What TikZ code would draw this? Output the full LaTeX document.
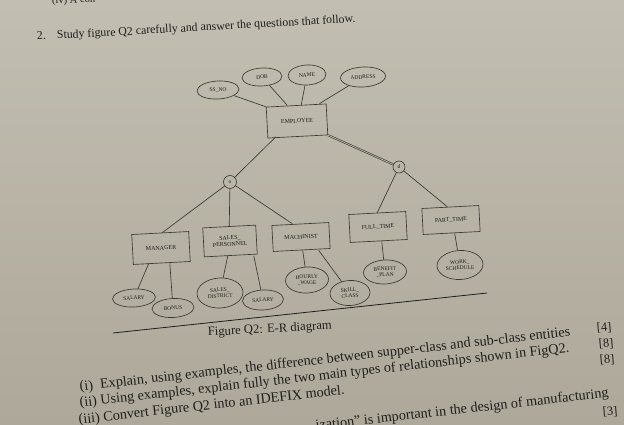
\documentclass[tikz,border=0pt]{standalone}
\usepackage{fontspec}
\setmainfont{Liberation Serif}
\usetikzlibrary{shapes.geometric,calc}
\definecolor{paperA}{HTML}{C2BEB1}
\definecolor{paperB}{HTML}{ADA899}
\definecolor{ink}{HTML}{1E1E1E}
\definecolor{lineink}{HTML}{3A3835}
\begin{document}
\begin{tikzpicture}[x=1pt,y=-1pt,
  ent/.style={draw=lineink, line width=0.65pt, inner sep=0pt, rotate=3, text=ink,
              font=\fontsize{6}{6.4}\selectfont, align=center},
  attr/.style={ellipse, draw=lineink, line width=0.65pt, inner sep=0pt, rotate=3, text=ink,
               font=\fontsize{5.5}{5.9}\selectfont, align=center},
  gen/.style={circle, draw=lineink, line width=0.65pt, inner sep=0pt, text=ink,
              font=\fontsize{5.5}{5.5}\selectfont},
  conn/.style={draw=lineink, line width=0.65pt},
  qtext/.style={text=ink, inner sep=0pt, anchor=base west}]
% background
\shade[top color=paperA, bottom color=paperB] (0,0) rectangle (624,425);
\useasboundingbox (0,0) rectangle (624,425);

% header
\node[qtext, rotate=3, font=\fontsize{10.5}{12}\selectfont] (cut) at (52,4) {(iv) A con};
\node[qtext, rotate=3.2, font=\fontsize{11.8}{13}\selectfont] (qnum) at (37,40) {2.};
\node[qtext, rotate=3.2, font=\fontsize{11.8}{13}\selectfont] (qhead) at (57,39)
  {Study figure Q2 carefully and answer the questions that follow.};

% entities
\node[ent, minimum width=60, minimum height=31] (emp) at (297,121) {EMPLOYEE};
\node[ent, minimum width=57, minimum height=30] (mgr) at (161,248) {MANAGER};
\node[ent, minimum width=53, minimum height=29] (sp) at (230,241) {SALES\_\\PERSONNEL};
\node[ent, minimum width=57, minimum height=26] (mach) at (301,237) {MACHINIST};
\node[ent, minimum width=57, minimum height=28] (ft) at (378,227) {FULL\_TIME};
\node[ent, minimum width=57, minimum height=26] (pt) at (451,220) {PART\_TIME};

% generalisation circles
\node[gen, minimum size=13] (ov) at (230,182) {o};
\node[gen, minimum size=12] (dj) at (399,167) {d};

% attributes of EMPLOYEE
\node[attr, minimum width=42, minimum height=18] (ssno) at (218,90) {SS\_NO};
\node[attr, minimum width=40, minimum height=18] (dob) at (262,77) {DOB};
\node[attr, minimum width=38, minimum height=20] (name) at (307,75) {NAME};
\node[attr, minimum width=45, minimum height=20] (addr) at (363,77) {ADDRESS};

% attributes of subclasses
\node[attr, minimum width=43, minimum height=18] (sal1) at (134,298) {SALARY};
\node[attr, minimum width=42, minimum height=19] (bonus) at (173,308) {BONUS};
\node[attr, minimum width=46, minimum height=30] (sdist) at (220,293) {SALES\_\\DISTRICT};
\node[attr, minimum width=41, minimum height=20] (sal2) at (263,300) {SALARY};
\node[attr, minimum width=43, minimum height=26] (hw) at (307,280) {HOURLY\\\_WAGE};
\node[attr, minimum width=40, minimum height=25] (sc) at (350,293) {SKILL\_\\CLASS};
\node[attr, minimum width=43, minimum height=24] (bp) at (385,272) {BENEFIT\\\_PLAN};
\node[attr, minimum width=46, minimum height=29] (ws) at (460,265) {WORK\_\\SCHEDULE};

% connectors
\draw[conn] (ssno) -- (emp.north west);
\draw[conn] (dob) -- ($(emp.north)+(-9,0)$);
\draw[conn] (name) -- ($(emp.north)+(5,0)$);
\draw[conn] (addr) -- ($(emp.north east)+(-7,0)$);
\draw[conn] ($(emp.south)+(-22,0)$) -- (ov);
\draw[draw=lineink, line width=0.55pt, double=paperB, double distance=0.9pt] (emp.south east) -- (dj);
\draw[conn] (ov) -- ($(mgr.north)+(2,0)$);
\draw[conn] (ov) -- (sp.north);
\draw[conn] (ov) -- ($(mach.north)+(-8,0)$);
\draw[conn] (dj) -- (ft.north);
\draw[conn] (dj) -- ($(pt.north)+(-3,0)$);
\draw[conn] ($(mgr.south)+(-13,0)$) -- (sal1);
\draw[conn] ($(mgr.south)+(8,0)$) -- (bonus);
\draw[conn] ($(sp.south)+(-3,0)$) -- (sdist);
\draw[conn] ($(sp.south)+(23,0)$) -- (sal2);
\draw[conn] ($(mach.south)+(1,0)$) -- (hw);
\draw[conn] ($(mach.south)+(17,0)$) -- (sc);
\draw[conn] ($(ft.south)+(3,0)$) -- (bp);
\draw[conn] ($(pt.south)+(3,0)$) -- (ws);

% caption rule and caption
\coordinate (ruleL) at (113,333);
\coordinate (ruleR) at (487,293);
\draw[draw=ink, line width=0.8pt] (ruleL) -- (ruleR);
\node[qtext, rotate=3.2, font=\fontsize{12.6}{14}\selectfont] (cap) at (208,336) {Figure Q2: E-R diagram};

% questions
\node[qtext, rotate=6.4, font=\fontsize{14.2}{16}\selectfont] (q1) at (80,391)
  {(i)\ \ Explain, using examples, the difference between supper-class and sub-class entities};
\node[qtext, rotate=6.4, font=\fontsize{14.2}{16}\selectfont] (q2) at (80,407)
  {(ii) Using examples, explain fully the two main types of relationships shown in FigQ2.};
\node[qtext, rotate=6.4, font=\fontsize{14.2}{16}\selectfont] (q3) at (79,424)
  {(iii) Convert Figure Q2 into an IDEFIX model.};
\node[qtext, rotate=6.4, font=\fontsize{14.2}{16}\selectfont] (q4) at (316,430)
  {ization'' is important in the design of manufacturing};
\node[qtext, rotate=5, font=\fontsize{12.5}{14}\selectfont] (m1) at (597,332) {[4]};
\node[qtext, rotate=5, font=\fontsize{12.5}{14}\selectfont] (m2) at (599,348) {[8]};
\node[qtext, rotate=5, font=\fontsize{12.5}{14}\selectfont] (m3) at (600,364) {[8]};
\node[qtext, rotate=5, font=\fontsize{12.5}{14}\selectfont] (m4) at (603,416) {[3]};
\end{tikzpicture}
\end{document}
